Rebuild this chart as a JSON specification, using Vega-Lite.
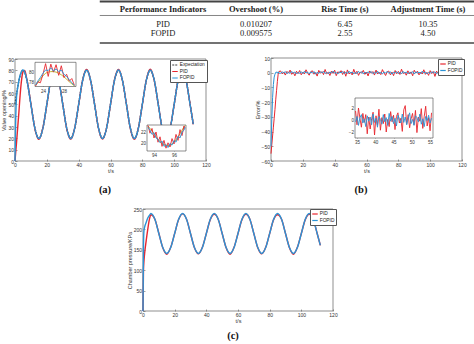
{
"$schema":"https://vega.github.io/schema/vega-lite/v6.json",
"width":474,"height":344,"autosize":{"type":"none"},"padding":0,
"config":{
 "view":{"stroke":null},
 "font":"Liberation Sans",
 "axis":{"grid":false,"domain":false,"labelFontSize":5,"titleFontSize":5.5,"titleFontWeight":"normal","labelColor":"#333","titleColor":"#333","tickColor":"#444","tickSize":-2,"tickWidth":0.5,"labelPadding":3.5,"titlePadding":1,"labelOverlap":false,"labelFlush":false,"zindex":1,"labelFont":"Liberation Sans","titleFont":"Liberation Sans"},
 "legend":{"fillColor":"white","strokeColor":"#555","padding":1.5,"cornerRadius":0,"symbolType":"stroke","symbolSize":30,"symbolStrokeWidth":1.2,"labelFontSize":4.8,"labelOffset":1.2,"rowPadding":0.5,"labelColor":"#222","labelFont":"Liberation Sans","titlePadding":0}
},
"datasets":{
 "table":[
  {"row":0,"col":1,"label":"Performance Indicators"},{"row":0,"col":2,"label":"Overshoot (%)"},{"row":0,"col":3,"label":"Rise Time (s)"},{"row":0,"col":4,"label":"Adjustment Time (s)"},
  {"row":1,"col":1,"label":"PID"},{"row":1,"col":2,"label":"0.010207"},{"row":1,"col":3,"label":"6.45"},{"row":1,"col":4,"label":"10.35"},
  {"row":2,"col":1,"label":"FOPID"},{"row":2,"col":2,"label":"0.009575"},{"row":2,"col":3,"label":"2.55"},{"row":2,"col":4,"label":"4.50"}
 ],
 "captions":[{"cap":"(a)","panel":"a","line":1},{"cap":"(b)","panel":"b","line":1},{"cap":"(c)","panel":"c","line":2}],
 "a":[
  {"t":0,"Expectation":50,"PID":0,"FOPID":0},
  {"t":0.5,"Expectation":54.7,"PID":8.5,"FOPID":40},
  {"t":1,"Expectation":59.3,"PID":17,"FOPID":57},
  {"t":1.5,"Expectation":63.6,"PID":26,"FOPID":63},
  {"t":2,"Expectation":67.6,"PID":35,"FOPID":67.4},
  {"t":2.5,"Expectation":71.2,"PID":44,"FOPID":71.3},
  {"t":3,"Expectation":74.3,"PID":54,"FOPID":74.4},
  {"t":4,"Expectation":78.5,"PID":70,"FOPID":78.6},
  {"t":5,"Expectation":80,"PID":78.5,"FOPID":80.3},
  {"t":6,"Expectation":78.5,"PID":79.8,"FOPID":78.7},
  {"t":7.5,"Expectation":71.2,"PID":71.6,"FOPID":71.1},
  {"t":10,"Expectation":50,"PID":50.4,"FOPID":49.8},
  {"t":12.5,"Expectation":28.8,"PID":28.5,"FOPID":28.9},
  {"t":15,"Expectation":20,"PID":19.2,"FOPID":19.8},
  {"t":17.5,"Expectation":28.8,"PID":29.2,"FOPID":28.7},
  {"t":20,"Expectation":50,"PID":49.6,"FOPID":50.1},
  {"t":22.5,"Expectation":71.2,"PID":71.5,"FOPID":71.2},
  {"t":25,"Expectation":80,"PID":80.9,"FOPID":80.3},
  {"t":27.5,"Expectation":71.2,"PID":71.0,"FOPID":71.3},
  {"t":30,"Expectation":50,"PID":50.3,"FOPID":50},
  {"t":32.5,"Expectation":28.8,"PID":28.4,"FOPID":28.8},
  {"t":35,"Expectation":20,"PID":19.3,"FOPID":19.7},
  {"t":37.5,"Expectation":28.8,"PID":29.1,"FOPID":28.9},
  {"t":40,"Expectation":50,"PID":49.7,"FOPID":50},
  {"t":42.5,"Expectation":71.2,"PID":71.4,"FOPID":71.1},
  {"t":45,"Expectation":80,"PID":80.8,"FOPID":80.2},
  {"t":47.5,"Expectation":71.2,"PID":70.9,"FOPID":71.2},
  {"t":50,"Expectation":50,"PID":50.2,"FOPID":49.9},
  {"t":52.5,"Expectation":28.8,"PID":28.6,"FOPID":28.8},
  {"t":55,"Expectation":20,"PID":19.4,"FOPID":19.8},
  {"t":57.5,"Expectation":28.8,"PID":29.0,"FOPID":28.8},
  {"t":60,"Expectation":50,"PID":49.8,"FOPID":50.1},
  {"t":62.5,"Expectation":71.2,"PID":71.5,"FOPID":71.2},
  {"t":65,"Expectation":80,"PID":80.7,"FOPID":80.3},
  {"t":67.5,"Expectation":71.2,"PID":71.0,"FOPID":71.2},
  {"t":70,"Expectation":50,"PID":50.3,"FOPID":50},
  {"t":72.5,"Expectation":28.8,"PID":28.5,"FOPID":28.9},
  {"t":75,"Expectation":20,"PID":19.2,"FOPID":19.8},
  {"t":77.5,"Expectation":28.8,"PID":29.1,"FOPID":28.8},
  {"t":80,"Expectation":50,"PID":49.7,"FOPID":50},
  {"t":82.5,"Expectation":71.2,"PID":71.4,"FOPID":71.2},
  {"t":85,"Expectation":80,"PID":80.9,"FOPID":80.2},
  {"t":87.5,"Expectation":71.2,"PID":70.9,"FOPID":71.3},
  {"t":90,"Expectation":50,"PID":50.2,"FOPID":50},
  {"t":92.5,"Expectation":28.8,"PID":28.6,"FOPID":28.8},
  {"t":95,"Expectation":20,"PID":19.3,"FOPID":19.7},
  {"t":97.5,"Expectation":28.8,"PID":29.0,"FOPID":28.9},
  {"t":100,"Expectation":50,"PID":49.8,"FOPID":50},
  {"t":102.5,"Expectation":71.2,"PID":71.4,"FOPID":71.1},
  {"t":105,"Expectation":80,"PID":80.8,"FOPID":80.3},
  {"t":107.5,"Expectation":71.2,"PID":71.0,"FOPID":71.2},
  {"t":110,"Expectation":50,"PID":50.2,"FOPID":49.9},
  {"t":112,"Expectation":32.4,"PID":32.3,"FOPID":32.5}
 ],
 "a1":[
  {"t":22.6,"Expectation":77.5,"PID":77.4,"FOPID":77.6},
  {"t":23,"Expectation":78.0,"PID":78.2,"FOPID":78.3},
  {"t":23.5,"Expectation":78.7,"PID":78.0,"FOPID":79.0},
  {"t":24,"Expectation":79.3,"PID":79.6,"FOPID":79.8},
  {"t":24.5,"Expectation":79.8,"PID":81.6,"FOPID":80.4},
  {"t":25,"Expectation":80.0,"PID":79.2,"FOPID":80.3},
  {"t":25.5,"Expectation":80.1,"PID":81.5,"FOPID":80.8},
  {"t":26,"Expectation":80.1,"PID":80.0,"FOPID":80.2},
  {"t":26.5,"Expectation":80.0,"PID":81.4,"FOPID":80.6},
  {"t":27,"Expectation":79.8,"PID":79.4,"FOPID":80.1},
  {"t":27.5,"Expectation":79.5,"PID":81.2,"FOPID":80.4},
  {"t":28,"Expectation":79.1,"PID":79.0,"FOPID":79.6},
  {"t":28.5,"Expectation":78.7,"PID":79.6,"FOPID":79.2},
  {"t":29,"Expectation":78.2,"PID":78.3,"FOPID":78.6},
  {"t":29.5,"Expectation":77.8,"PID":78.8,"FOPID":78.0},
  {"t":30,"Expectation":77.4,"PID":77.5,"FOPID":77.5}
 ],
 "a2":[
  {"t":93.4,"Expectation":23.0,"PID":23.1,"FOPID":22.8},
  {"t":93.6,"Expectation":22.6,"PID":21.8,"FOPID":22.3},
  {"t":93.8,"Expectation":22.2,"PID":22.6,"FOPID":21.6},
  {"t":94.0,"Expectation":21.7,"PID":21.0,"FOPID":21.9},
  {"t":94.2,"Expectation":21.2,"PID":22.0,"FOPID":21.0},
  {"t":94.4,"Expectation":20.8,"PID":20.3,"FOPID":20.8},
  {"t":94.6,"Expectation":20.4,"PID":21.2,"FOPID":20.2},
  {"t":94.8,"Expectation":20.1,"PID":19.6,"FOPID":20.5},
  {"t":95.0,"Expectation":19.9,"PID":20.6,"FOPID":19.6},
  {"t":95.2,"Expectation":19.8,"PID":19.3,"FOPID":19.9},
  {"t":95.4,"Expectation":19.7,"PID":20.2,"FOPID":19.4},
  {"t":95.6,"Expectation":19.8,"PID":19.5,"FOPID":20.1},
  {"t":95.8,"Expectation":20.0,"PID":20.9,"FOPID":19.8},
  {"t":96.0,"Expectation":20.3,"PID":20.0,"FOPID":20.6},
  {"t":96.2,"Expectation":20.7,"PID":21.6,"FOPID":20.3},
  {"t":96.4,"Expectation":21.2,"PID":20.6,"FOPID":21.3},
  {"t":96.6,"Expectation":21.7,"PID":22.4,"FOPID":21.0},
  {"t":96.8,"Expectation":22.3,"PID":21.4,"FOPID":22.0},
  {"t":97.0,"Expectation":22.9,"PID":23.0,"FOPID":22.3},
  {"t":97.1,"Expectation":23.1,"PID":22.6,"FOPID":22.8}
 ],
 "b":[
  {"t":0,"PID":-55,"FOPID":-50},{"t":0.5,"PID":-49,"FOPID":-32},{"t":1,"PID":-43,"FOPID":-17},{"t":1.5,"PID":-37,"FOPID":-8},{"t":2,"PID":-31,"FOPID":-3},{"t":2.5,"PID":-25,"FOPID":-1},{"t":3,"PID":-18,"FOPID":0.3},{"t":3.5,"PID":-12,"FOPID":0.5},{"t":4,"PID":-6,"FOPID":-0.4},{"t":4.5,"PID":-1,"FOPID":0.6},{"t":5,"PID":0.8,"FOPID":-0.3},
  {"t":6,"PID":1.2,"FOPID":-0.4},{"t":7,"PID":-0.8,"FOPID":0.6},{"t":8,"PID":0.5,"FOPID":-0.2},{"t":9,"PID":-1.6,"FOPID":0.8},{"t":10,"PID":0.9,"FOPID":-0.7},
  {"t":11,"PID":-0.3,"FOPID":0.3},{"t":12,"PID":1.8,"FOPID":-0.5},{"t":13,"PID":-1.1,"FOPID":0.9},{"t":14,"PID":0.2,"FOPID":-0.3},{"t":15,"PID":-2.1,"FOPID":0.5},
  {"t":16,"PID":1.0,"FOPID":-0.9},{"t":17,"PID":-0.6,"FOPID":0.2},{"t":18,"PID":1.5,"FOPID":-0.4},{"t":19,"PID":-1.4,"FOPID":0.7},{"t":20,"PID":0.4,"FOPID":-0.6},
  {"t":21,"PID":-0.9,"FOPID":1.0},{"t":22,"PID":2.0,"FOPID":-0.2},{"t":23,"PID":-0.2,"FOPID":0.4},{"t":24,"PID":-1.7,"FOPID":-0.8},{"t":25,"PID":0.7,"FOPID":0.6},
  {"t":26,"PID":1.3,"FOPID":-0.3},{"t":27,"PID":-1.0,"FOPID":0.8},{"t":28,"PID":0.1,"FOPID":-1.0},{"t":29,"PID":-2.3,"FOPID":0.3},{"t":30,"PID":1.6,"FOPID":-0.5},
  {"t":31,"PID":-0.4,"FOPID":0.7},{"t":32,"PID":0.8,"FOPID":-0.2},{"t":33,"PID":-1.3,"FOPID":0.9},{"t":34,"PID":2.2,"FOPID":-0.6},{"t":35,"PID":-0.7,"FOPID":0.4},
  {"t":36,"PID":0.3,"FOPID":-0.8},{"t":37,"PID":-1.9,"FOPID":0.5},{"t":38,"PID":1.1,"FOPID":-0.3},{"t":39,"PID":-0.5,"FOPID":1.1},{"t":40,"PID":1.7,"FOPID":-0.4},
  {"t":41,"PID":-2.0,"FOPID":0.2},{"t":42,"PID":0.6,"FOPID":-0.9},{"t":43,"PID":-0.1,"FOPID":0.6},{"t":44,"PID":1.4,"FOPID":-0.1},{"t":45,"PID":-1.2,"FOPID":0.8},
  {"t":46,"PID":0.9,"FOPID":-0.7},{"t":47,"PID":-2.4,"FOPID":0.3},{"t":48,"PID":1.9,"FOPID":-0.5},{"t":49,"PID":-0.8,"FOPID":1.0},{"t":50,"PID":0.2,"FOPID":-0.3},
  {"t":51,"PID":-1.5,"FOPID":0.5},{"t":52,"PID":2.3,"FOPID":-0.8},{"t":53,"PID":-0.6,"FOPID":0.2},{"t":54,"PID":1.0,"FOPID":-0.6},{"t":55,"PID":-1.8,"FOPID":0.9},
  {"t":56,"PID":0.5,"FOPID":-0.2},{"t":57,"PID":-0.3,"FOPID":0.7},{"t":58,"PID":1.6,"FOPID":-0.9},{"t":59,"PID":-1.1,"FOPID":0.4},{"t":60,"PID":0.4,"FOPID":-0.4},
  {"t":61,"PID":-2.2,"FOPID":0.6},{"t":62,"PID":1.2,"FOPID":-0.1},{"t":63,"PID":-0.4,"FOPID":0.8},{"t":64,"PID":0.8,"FOPID":-0.7},{"t":65,"PID":-1.6,"FOPID":0.3},
  {"t":66,"PID":1.8,"FOPID":-0.5},{"t":67,"PID":-0.9,"FOPID":1.0},{"t":68,"PID":0.3,"FOPID":-0.6},{"t":69,"PID":-1.3,"FOPID":0.2},{"t":70,"PID":2.1,"FOPID":-0.8},
  {"t":71,"PID":-0.2,"FOPID":0.5},{"t":72,"PID":-1.9,"FOPID":-0.3},{"t":73,"PID":0.7,"FOPID":0.9},{"t":74,"PID":1.1,"FOPID":-0.4},{"t":75,"PID":-1.4,"FOPID":0.6},
  {"t":76,"PID":0.5,"FOPID":-1.0},{"t":77,"PID":-2.0,"FOPID":0.3},{"t":78,"PID":1.5,"FOPID":-0.2},{"t":79,"PID":-0.7,"FOPID":0.7},{"t":80,"PID":0.9,"FOPID":-0.6},
  {"t":81,"PID":-1.2,"FOPID":0.4},{"t":82,"PID":2.4,"FOPID":-0.8},{"t":83,"PID":-0.5,"FOPID":0.9},{"t":84,"PID":0.1,"FOPID":-0.3},{"t":85,"PID":-1.7,"FOPID":0.5},
  {"t":86,"PID":1.3,"FOPID":-0.7},{"t":87,"PID":-0.8,"FOPID":0.2},{"t":88,"PID":0.6,"FOPID":-0.4},{"t":89,"PID":-2.1,"FOPID":0.8},{"t":90,"PID":1.7,"FOPID":-0.9},
  {"t":91,"PID":-0.3,"FOPID":0.6},{"t":92,"PID":1.0,"FOPID":-0.2},{"t":93,"PID":-1.5,"FOPID":0.4},{"t":94,"PID":0.4,"FOPID":-0.6},{"t":95,"PID":-0.9,"FOPID":1.0},
  {"t":96,"PID":2.0,"FOPID":-0.3},{"t":97,"PID":-1.1,"FOPID":0.5},{"t":98,"PID":0.3,"FOPID":-0.8},{"t":99,"PID":-1.8,"FOPID":0.3},{"t":100,"PID":1.4,"FOPID":-0.5},
  {"t":101,"PID":-0.6,"FOPID":0.7},{"t":102,"PID":0.8,"FOPID":-0.1},{"t":103,"PID":-2.5,"FOPID":0.6},{"t":104,"PID":1.1,"FOPID":-0.7},{"t":105,"PID":-0.4,"FOPID":0.2}
 ],
 "b1":[
  {"t":34.6,"PID":1.5,"FOPID":-0.3},{"t":35.0,"PID":-0.8,"FOPID":0.6},{"t":35.4,"PID":2.0,"FOPID":-0.9},{"t":35.8,"PID":0.3,"FOPID":0.4},{"t":36.2,"PID":-1.2,"FOPID":0.9},
  {"t":36.6,"PID":1.1,"FOPID":-0.5},{"t":37.0,"PID":-0.4,"FOPID":0.2},{"t":37.4,"PID":0.9,"FOPID":-1.1},{"t":37.8,"PID":-2.3,"FOPID":0.7},{"t":38.2,"PID":0.5,"FOPID":-0.2},
  {"t":38.6,"PID":-1.5,"FOPID":0.5},{"t":39.0,"PID":0.2,"FOPID":-0.8},{"t":39.4,"PID":1.3,"FOPID":1.0},{"t":39.8,"PID":-2.5,"FOPID":-0.4},{"t":40.2,"PID":0.7,"FOPID":0.3},
  {"t":40.6,"PID":-0.9,"FOPID":-1.2},{"t":41.0,"PID":1.8,"FOPID":0.6},{"t":41.4,"PID":-1.7,"FOPID":0.1},{"t":41.8,"PID":0.4,"FOPID":-0.7},{"t":42.2,"PID":-0.6,"FOPID":0.9},
  {"t":42.6,"PID":1.0,"FOPID":-0.3},{"t":43.0,"PID":-2.0,"FOPID":0.4},{"t":43.4,"PID":0.1,"FOPID":-0.9},{"t":43.8,"PID":-1.1,"FOPID":1.1},{"t":44.2,"PID":1.4,"FOPID":-0.2},
  {"t":44.6,"PID":-0.3,"FOPID":0.6},{"t":45.0,"PID":0.8,"FOPID":-0.6},{"t":45.4,"PID":-1.6,"FOPID":0.3},{"t":45.8,"PID":0.6,"FOPID":-1.0},{"t":46.2,"PID":1.2,"FOPID":0.8},
  {"t":46.6,"PID":-0.5,"FOPID":0.2},{"t":47.0,"PID":0.3,"FOPID":-0.5},{"t":47.4,"PID":-1.9,"FOPID":1.0},{"t":47.8,"PID":1.7,"FOPID":-0.4},{"t":48.2,"PID":2.4,"FOPID":0.5},
  {"t":48.6,"PID":-0.7,"FOPID":-0.8},{"t":49.0,"PID":0.9,"FOPID":0.3},{"t":49.4,"PID":-1.3,"FOPID":1.2},{"t":49.8,"PID":0.2,"FOPID":-0.6},{"t":50.2,"PID":1.1,"FOPID":0.1},
  {"t":50.6,"PID":-0.8,"FOPID":-0.9},{"t":51.0,"PID":1.6,"FOPID":0.7},{"t":51.4,"PID":-2.1,"FOPID":0.4},{"t":51.8,"PID":0.5,"FOPID":-0.3},{"t":52.2,"PID":-0.2,"FOPID":1.0},
  {"t":52.6,"PID":1.9,"FOPID":-0.7},{"t":53.0,"PID":-1.4,"FOPID":0.2},{"t":53.4,"PID":0.6,"FOPID":-1.1},{"t":53.8,"PID":2.3,"FOPID":0.6},{"t":54.2,"PID":-1.0,"FOPID":-0.1},
  {"t":54.6,"PID":0.4,"FOPID":0.8},{"t":55.0,"PID":-1.8,"FOPID":-0.5},{"t":55.4,"PID":1.2,"FOPID":0.3}
 ],
 "c":[
  {"t":0,"PID":0,"FOPID":0},{"t":0.3,"PID":100,"FOPID":160},{"t":0.6,"PID":122,"FOPID":196},{"t":1,"PID":140,"FOPID":205},{"t":2,"PID":172,"FOPID":217},{"t":3,"PID":200,"FOPID":228},{"t":4,"PID":224,"FOPID":234},{"t":5,"PID":236,"FOPID":239},
  {"t":7.5,"PID":225,"FOPID":224.6},{"t":10,"PID":190.5,"FOPID":190},{"t":12.5,"PID":155,"FOPID":155.4},{"t":15,"PID":139,"FOPID":141},{"t":17.5,"PID":156,"FOPID":155.4},
  {"t":20,"PID":190,"FOPID":190},{"t":22.5,"PID":224,"FOPID":224.6},{"t":25,"PID":238,"FOPID":239},{"t":27.5,"PID":225,"FOPID":224.6},{"t":30,"PID":190,"FOPID":190},{"t":32.5,"PID":155,"FOPID":155.4},{"t":35,"PID":140,"FOPID":141},{"t":37.5,"PID":156,"FOPID":155.4},
  {"t":40,"PID":190,"FOPID":190},{"t":42.5,"PID":224,"FOPID":224.6},{"t":45,"PID":237,"FOPID":239},{"t":47.5,"PID":225,"FOPID":224.6},{"t":50,"PID":190,"FOPID":190},{"t":52.5,"PID":155,"FOPID":155.4},{"t":55,"PID":139,"FOPID":141},{"t":57.5,"PID":156,"FOPID":155.4},
  {"t":60,"PID":190,"FOPID":190},{"t":62.5,"PID":224,"FOPID":224.6},{"t":65,"PID":237,"FOPID":239},{"t":67.5,"PID":225,"FOPID":224.6},{"t":70,"PID":190,"FOPID":190},{"t":72.5,"PID":155,"FOPID":155.4},{"t":75,"PID":140,"FOPID":141},{"t":77.5,"PID":156,"FOPID":155.4},
  {"t":80,"PID":190,"FOPID":190},{"t":82.5,"PID":224,"FOPID":224.6},{"t":85,"PID":236,"FOPID":239},{"t":87.5,"PID":225,"FOPID":224.6},{"t":90,"PID":190,"FOPID":190},{"t":92.5,"PID":155,"FOPID":155.4},{"t":95,"PID":139,"FOPID":141},{"t":97.5,"PID":156,"FOPID":155.4},
  {"t":100,"PID":190,"FOPID":190},{"t":102.5,"PID":224,"FOPID":224.6},{"t":105,"PID":237,"FOPID":239},{"t":107.5,"PID":225,"FOPID":224.6},{"t":110,"PID":190,"FOPID":190},{"t":112,"PID":161,"FOPID":161.2}
 ]
},
"layer":[
 {"layer":[
   {"data":{"name":"table"},"transform":[{"filter":"datum.row == 0"}],
    "mark":{"type":"text","font":"Liberation Serif","fontSize":8.5,"fontWeight":"bold","color":"#222","baseline":"middle","align":"center"},
    "encoding":{"x":{"field":"col","type":"quantitative","scale":{"domain":[1,2,3,4],"range":[163,256,345,428],"nice":false,"zero":false},"axis":null},
                "y":{"field":"row","type":"quantitative","scale":{"domain":[0,1,2],"range":[9,23.5,32.5],"nice":false,"zero":false},"axis":null},
                "text":{"field":"label"}}},
   {"data":{"name":"table"},"transform":[{"filter":"datum.row > 0"}],
    "mark":{"type":"text","font":"Liberation Serif","fontSize":8.5,"color":"#222","baseline":"middle","align":"center"},
    "encoding":{"x":{"field":"col","type":"quantitative","axis":null},"y":{"field":"row","type":"quantitative","axis":null},"text":{"field":"label"}}},
   {"data":{"values":[{}]},"mark":{"type":"rule","color":"#444","strokeWidth":2},
    "encoding":{"x":{"datum":0.32,"type":"quantitative","axis":null},"x2":{"datum":4.56},"y":{"datum":-0.517,"type":"quantitative","axis":null}}},
   {"data":{"values":[{}]},"mark":{"type":"rule","color":"#666","strokeWidth":0.8},
    "encoding":{"x":{"datum":0.32,"type":"quantitative","axis":null},"x2":{"datum":4.56},"y":{"datum":0.448,"type":"quantitative","axis":null}}},
   {"data":{"values":[{}]},"mark":{"type":"rule","color":"#444","strokeWidth":1.4},
    "encoding":{"x":{"datum":0.32,"type":"quantitative","axis":null},"x2":{"datum":4.56},"y":{"datum":3.167,"type":"quantitative","axis":null}}}
 ]},
 {"layer":[
   {"data":{"values":[{}]},"mark":{"type":"rect","fill":"white","fillOpacity":0,"stroke":"#444","strokeWidth":0.6},
    "encoding":{"x":{"datum":0,"type":"quantitative","scale":{"domain":[0,120],"range":[15,206],"nice":false,"zero":false},"axis":{"orient":"bottom","offset":-183,"values":[0,20,40,60,80,100,120],"title":"t/s"}},"x2":{"datum":120},
                "y":{"datum":0,"type":"quantitative","scale":{"domain":[0,90],"range":[161,59],"nice":false,"zero":false},"axis":{"orient":"left","offset":-15,"values":[0,10,20,30,40,50,60,70,80,90],"title":"Valve opening/%"}},"y2":{"datum":90}}},
   {"data":{"name":"a"},"transform":[{"fold":["Expectation","PID","FOPID"],"as":["series","v"]}],
    "mark":{"type":"line","strokeWidth":1.4,"interpolate":"monotone"},
    "encoding":{"x":{"field":"t","type":"quantitative","scale":{"domain":[0,120],"range":[15,206],"nice":false,"zero":false},"axis":{"orient":"bottom","offset":-183,"values":[0,20,40,60,80,100,120],"title":"t/s"}},
                "y":{"field":"v","type":"quantitative","scale":{"domain":[0,90],"range":[161,59],"nice":false,"zero":false},"axis":{"orient":"left","offset":-15,"values":[0,10,20,30,40,50,60,70,80,90],"title":"Valve opening/%"}},
                "color":{"field":"series","type":"nominal","scale":{"domain":["Expectation","PID","FOPID"],"range":["#3a3a3a","#e8262e","#2b93d6"]},"legend":{"orient":"none","legendX":170,"legendY":60,"title":null}},
                "strokeDash":{"field":"series","type":"nominal","scale":{"domain":["Expectation","PID","FOPID"],"range":[[2,1],[1,0],[1,0]]},"legend":{"orient":"none","legendX":170,"legendY":60,"title":null}}}}
 ]},
 {"layer":[
   {"data":{"values":[{}]},"mark":{"type":"rect","fill":"white","stroke":"#444","strokeWidth":0.6},
    "encoding":{"x":{"datum":22.48,"type":"quantitative","scale":{"domain":[22.48,30.3],"range":[35,76],"nice":false,"zero":false},"axis":{"orient":"bottom","offset":-257.5,"values":[24,28],"title":null,"labelFontSize":4.5}},"x2":{"datum":30.3},
                "y":{"datum":77.3,"type":"quantitative","scale":{"domain":[77.3,81.85],"range":[86.5,62.3],"nice":false,"zero":false},"axis":{"orient":"left","offset":-35,"values":[78,80],"title":null,"labelFontSize":4.5}},"y2":{"datum":81.85}}},
   {"data":{"name":"a1"},"transform":[{"fold":["Expectation","PID","FOPID"],"as":["series","v"]}],
    "mark":{"type":"line","strokeWidth":0.9},
    "encoding":{"x":{"field":"t","type":"quantitative","scale":{"domain":[22.48,30.3],"range":[35,76],"nice":false,"zero":false},"axis":{"orient":"bottom","offset":-257.5,"values":[24,28],"title":null,"labelFontSize":4.5}},
                "y":{"field":"v","type":"quantitative","scale":{"domain":[77.3,81.85],"range":[86.5,62.3],"nice":false,"zero":false},"axis":{"orient":"left","offset":-35,"values":[78,80],"title":null,"labelFontSize":4.5}},
                "color":{"field":"series","type":"nominal","scale":{"domain":["Expectation","PID","FOPID"],"range":["#b8b020","#e8262e","#2b93d6"]},"legend":null}}}
 ]},
 {"layer":[
   {"data":{"values":[{}]},"mark":{"type":"rect","fill":"white","stroke":"#444","strokeWidth":0.6},
    "encoding":{"x":{"datum":93.3,"type":"quantitative","scale":{"domain":[93.3,97.2],"range":[147,186],"nice":false,"zero":false},"axis":{"orient":"bottom","offset":-193,"values":[94,96],"title":null,"labelFontSize":4.5}},"x2":{"datum":97.2},
                "y":{"datum":18.83,"type":"quantitative","scale":{"domain":[18.83,23.17],"range":[151,125],"nice":false,"zero":false},"axis":{"orient":"left","offset":-147,"values":[20,22],"title":null,"labelFontSize":4.5}},"y2":{"datum":23.17}}},
   {"data":{"name":"a2"},"transform":[{"fold":["Expectation","PID","FOPID"],"as":["series","v"]}],
    "mark":{"type":"line","strokeWidth":0.9},
    "encoding":{"x":{"field":"t","type":"quantitative","scale":{"domain":[93.3,97.2],"range":[147,186],"nice":false,"zero":false},"axis":{"orient":"bottom","offset":-193,"values":[94,96],"title":null,"labelFontSize":4.5}},
                "y":{"field":"v","type":"quantitative","scale":{"domain":[18.83,23.17],"range":[151,125],"nice":false,"zero":false},"axis":{"orient":"left","offset":-147,"values":[20,22],"title":null,"labelFontSize":4.5}},
                "color":{"field":"series","type":"nominal","scale":{"domain":["Expectation","PID","FOPID"],"range":["#b8b020","#e8262e","#2b93d6"]},"legend":null}}}
 ]},
 {"layer":[
   {"data":{"values":[{}]},"mark":{"type":"rect","fill":"white","fillOpacity":0,"stroke":"#444","strokeWidth":0.6},
    "encoding":{"x":{"datum":0,"type":"quantitative","scale":{"domain":[0,120],"range":[271,462],"nice":false,"zero":false},"axis":{"orient":"bottom","offset":-183,"values":[0,20,40,60,80,100,120],"title":"t/s"}},"x2":{"datum":120},
                "y":{"datum":-60,"type":"quantitative","scale":{"domain":[-60,10],"range":[161,58],"nice":false,"zero":false},"axis":{"orient":"left","offset":-271,"values":[-60,-50,-40,-30,-20,-10,0,10],"title":"Error/%"}},"y2":{"datum":10}}},
   {"data":{"name":"b"},"transform":[{"fold":["PID","FOPID"],"as":["series","v"]}],
    "mark":{"type":"line","strokeWidth":1},
    "encoding":{"x":{"field":"t","type":"quantitative","scale":{"domain":[0,120],"range":[271,462],"nice":false,"zero":false},"axis":{"orient":"bottom","offset":-183,"values":[0,20,40,60,80,100,120],"title":"t/s"}},
                "y":{"field":"v","type":"quantitative","scale":{"domain":[-60,10],"range":[161,58],"nice":false,"zero":false},"axis":{"orient":"left","offset":-271,"values":[-60,-50,-40,-30,-20,-10,0,10],"title":"Error/%"}},
                "color":{"field":"series","type":"nominal","scale":{"domain":["PID","FOPID"],"range":["#e8262e","#2b93d6"]},"legend":{"orient":"none","legendX":438,"legendY":59,"title":null}}}}
 ]},
 {"layer":[
   {"data":{"values":[{}]},"mark":{"type":"rect","fill":"white","stroke":"#444","strokeWidth":0.6},
    "encoding":{"x":{"datum":34.45,"type":"quantitative","scale":{"domain":[34.45,55.8],"range":[355,433],"nice":false,"zero":false},"axis":{"orient":"bottom","offset":-206,"values":[35,40,45,50,55],"title":null,"labelFontSize":4.5}},"x2":{"datum":55.8},
                "y":{"datum":-3,"type":"quantitative","scale":{"domain":[-3,3.67],"range":[138,98],"nice":false,"zero":false},"axis":{"orient":"left","offset":-355,"values":[-2,0,2],"title":null,"labelFontSize":4.5}},"y2":{"datum":3.67}}},
   {"data":{"name":"b1"},"transform":[{"fold":["PID","FOPID"],"as":["series","v"]}],
    "mark":{"type":"line","strokeWidth":0.9},
    "encoding":{"x":{"field":"t","type":"quantitative","scale":{"domain":[34.45,55.8],"range":[355,433],"nice":false,"zero":false},"axis":{"orient":"bottom","offset":-206,"values":[35,40,45,50,55],"title":null,"labelFontSize":4.5}},
                "y":{"field":"v","type":"quantitative","scale":{"domain":[-3,3.67],"range":[138,98],"nice":false,"zero":false},"axis":{"orient":"left","offset":-355,"values":[-2,0,2],"title":null,"labelFontSize":4.5}},
                "color":{"field":"series","type":"nominal","scale":{"domain":["PID","FOPID"],"range":["#e8262e","#2b93d6"]},"legend":null}}}
 ]},
 {"layer":[
   {"data":{"values":[{}]},"mark":{"type":"rect","fill":"white","fillOpacity":0,"stroke":"#444","strokeWidth":0.6},
    "encoding":{"x":{"datum":0,"type":"quantitative","scale":{"domain":[0,120],"range":[143,333],"nice":false,"zero":false},"axis":{"orient":"bottom","offset":-33,"values":[0,20,40,60,80,100,120],"title":"t/s"}},"x2":{"datum":120},
                "y":{"datum":0,"type":"quantitative","scale":{"domain":[0,250],"range":[311,209],"nice":false,"zero":false},"axis":{"orient":"left","offset":-143,"values":[0,50,100,150,200,250],"title":"Chamber pressure/KPa"}},"y2":{"datum":250}}},
   {"data":{"name":"c"},"transform":[{"fold":["PID","FOPID"],"as":["series","v"]}],
    "mark":{"type":"line","strokeWidth":1.4,"interpolate":"monotone"},
    "encoding":{"x":{"field":"t","type":"quantitative","scale":{"domain":[0,120],"range":[143,333],"nice":false,"zero":false},"axis":{"orient":"bottom","offset":-33,"values":[0,20,40,60,80,100,120],"title":"t/s"}},
                "y":{"field":"v","type":"quantitative","scale":{"domain":[0,250],"range":[311,209],"nice":false,"zero":false},"axis":{"orient":"left","offset":-143,"values":[0,50,100,150,200,250],"title":"Chamber pressure/KPa"}},
                "color":{"field":"series","type":"nominal","scale":{"domain":["PID","FOPID"],"range":["#e8262e","#2b93d6"]},"legend":{"orient":"none","legendX":310,"legendY":209,"title":null}}}}
 ]},
 {"data":{"name":"captions"},
  "mark":{"type":"text","font":"Liberation Serif","fontSize":10.5,"fontWeight":"bold","color":"#111","baseline":"middle","align":"center"},
  "encoding":{"x":{"field":"panel","type":"nominal","scale":{"type":"point","domain":["a","c","b"],"range":[105,361],"padding":0},"axis":null},
              "y":{"field":"line","type":"quantitative","scale":{"domain":[1,2],"range":[190,336],"nice":false,"zero":false},"axis":null},
              "text":{"field":"cap"}}}
],
"resolve":{"scale":{"x":"independent","y":"independent","color":"independent","strokeDash":"independent"},"axis":{"x":"independent","y":"independent"},"legend":{"color":"independent","strokeDash":"independent"}}
}
